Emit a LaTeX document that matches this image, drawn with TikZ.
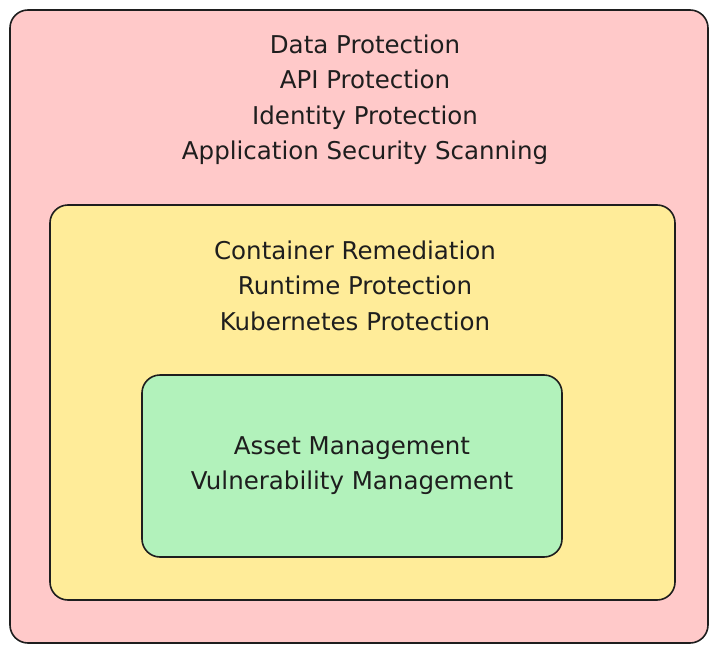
\documentclass[tikz,border=0pt]{standalone}
\usepackage{fontspec}
\setmainfont{DejaVu Sans}
\usetikzlibrary{positioning}
\definecolor{inkgrey}{HTML}{1E1E1E}
\definecolor{cloudred}{HTML}{FFC9C9}
\definecolor{workyellow}{HTML}{FFEC99}
\definecolor{basegreen}{HTML}{B2F2BB}
\begin{document}
\begin{tikzpicture}[x=1pt,y=-1pt,
    layer/.style={draw=inkgrey, line width=1.6pt, rounded corners=18pt, inner sep=0pt},
    layertext/.style={font=\fontsize{24.5}{35.5}\selectfont, align=center, text=inkgrey}]
  \useasboundingbox (0,0) rectangle (718,653);
  % nested layers
  \node[layer, fill=cloudred, minimum width=698pt, minimum height=633pt] (cloud) at (359,326.5) {};
  \node[layer, fill=workyellow, minimum width=625pt, minimum height=395pt] (workload) at (362.5,402.5) {};
  \node[layer, fill=basegreen, minimum width=420pt, minimum height=182pt] (base) at (352,466) {};
  % texts
  \node[layertext] (cloudtext) at (365,99.5) {Data Protection\\API Protection\\Identity Protection\\Application Security Scanning};
  \node[layertext] (worktext) at (355,285.5) {Container Remediation\\Runtime Protection\\Kubernetes Protection};
  \node[layertext] (basetext) at (352,465.5) {Asset Management\\Vulnerability Management};
\end{tikzpicture}
\end{document}
